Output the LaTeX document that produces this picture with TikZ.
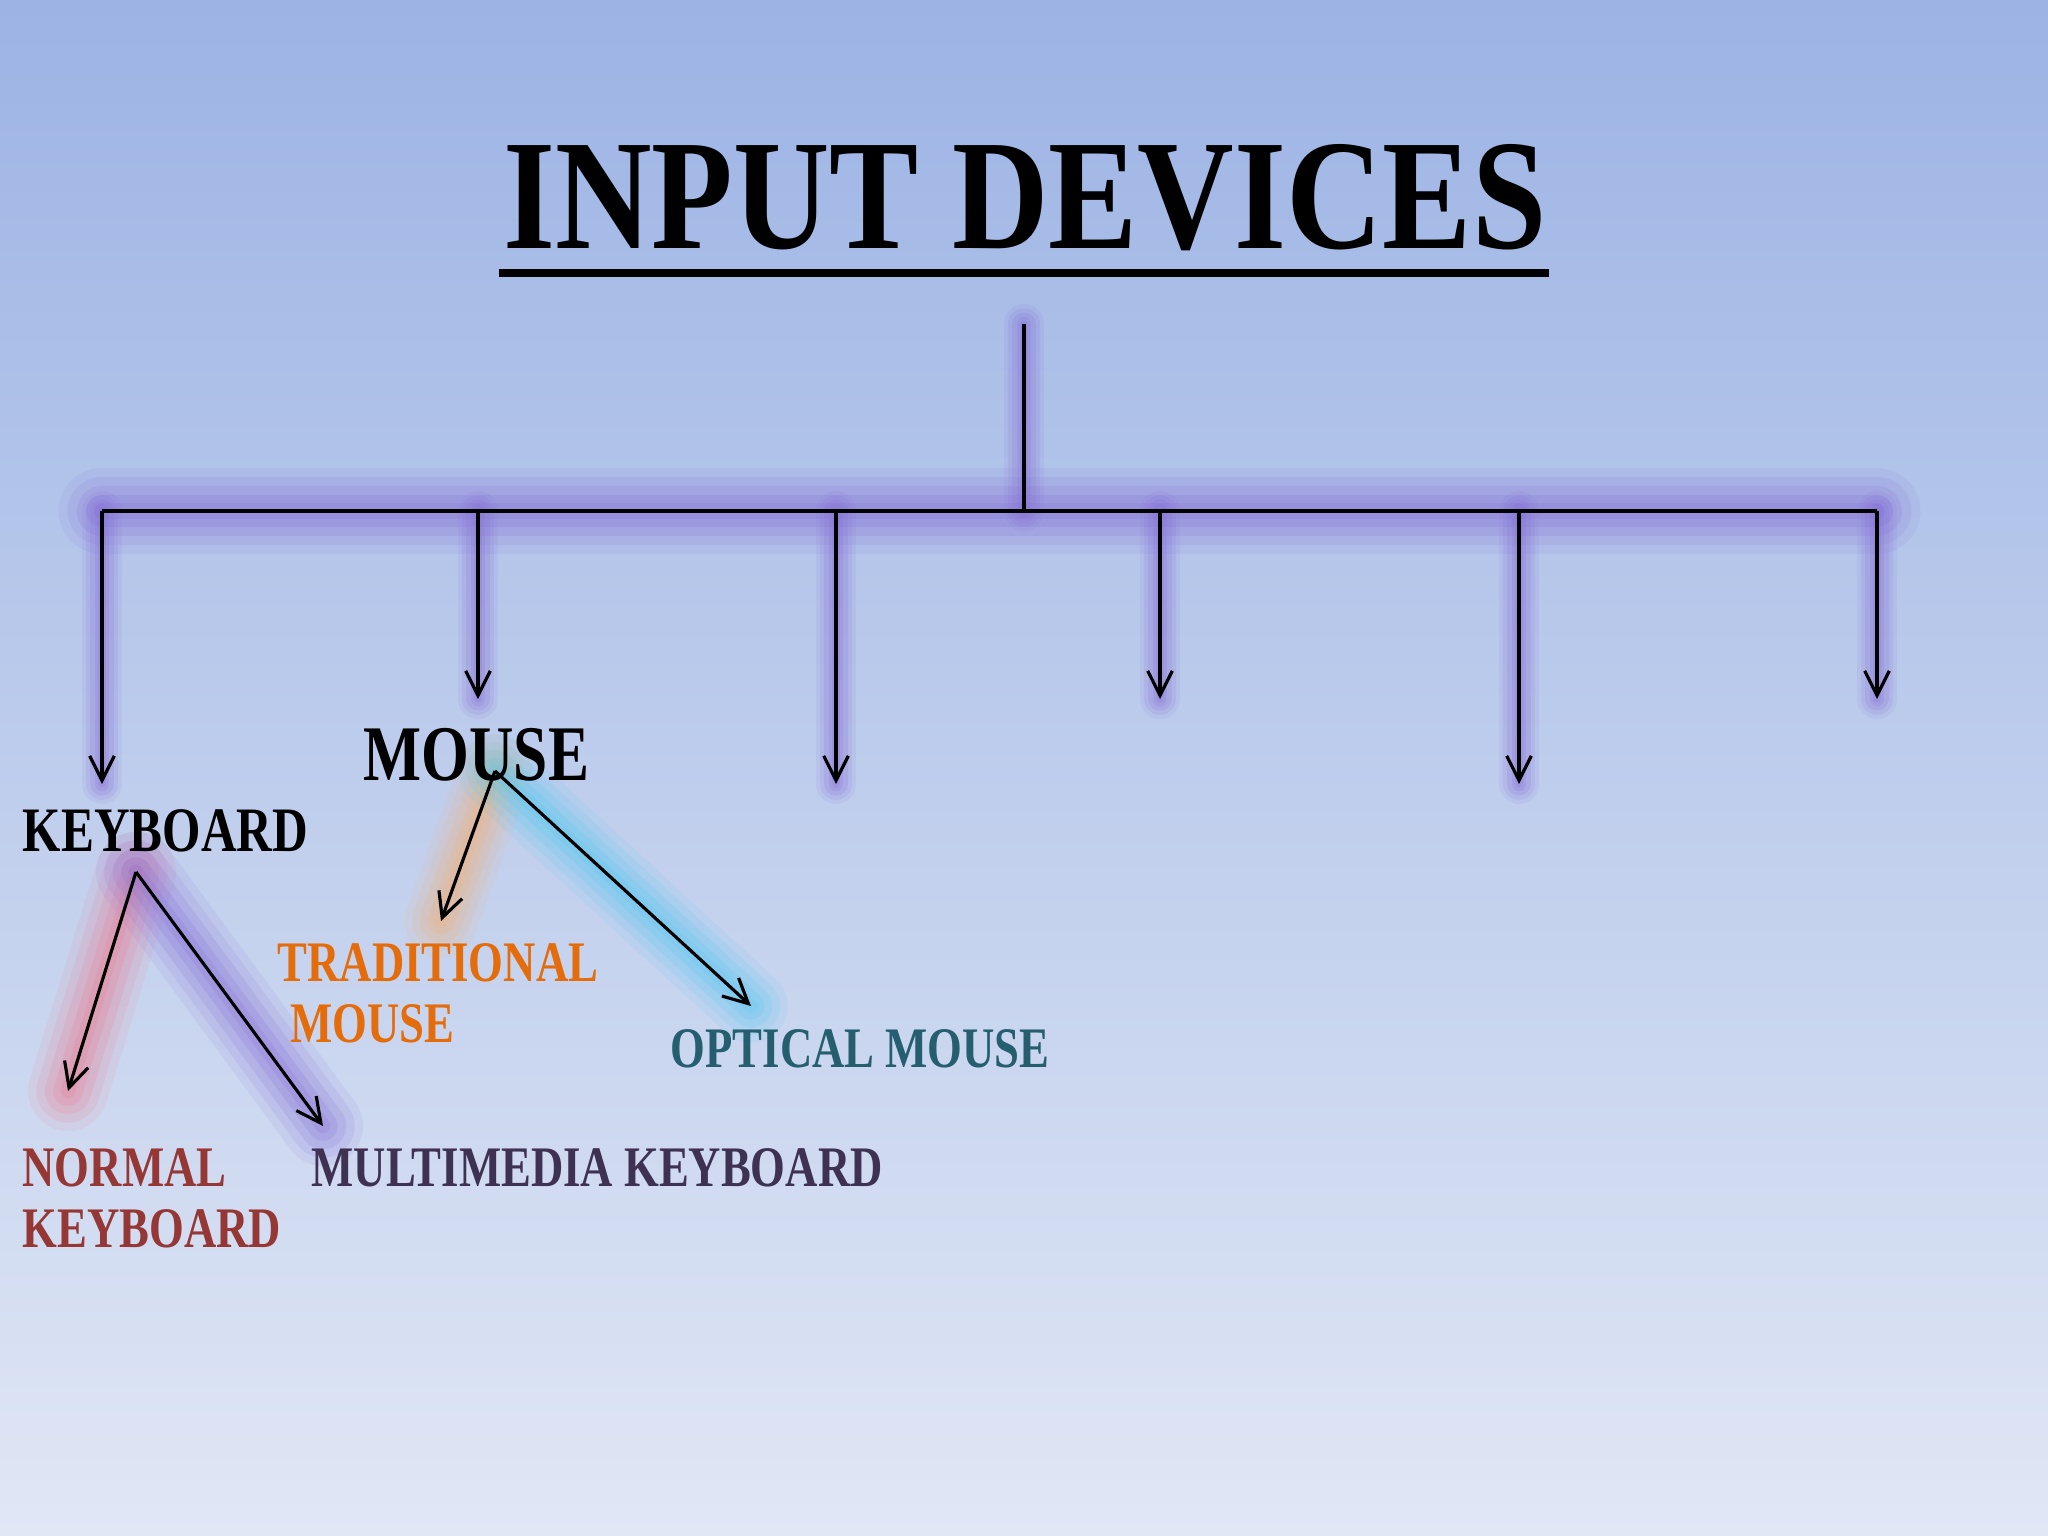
\documentclass[tikz,border=0pt]{standalone}
\usepackage{fontspec}
\usepackage{tikz}
\usetikzlibrary{arrows.meta}
\newfontfamily\titlefont[FakeStretch=0.85]{Liberation Serif}
\newfontfamily\algfont[FakeStretch=0.78]{Liberation Serif}
\definecolor{bgtop}{RGB}{156,179,228}
\definecolor{bgbottom}{RGB}{224,231,245}
\definecolor{glowpurple}{RGB}{135,110,215}
\definecolor{glowred}{RGB}{235,120,140}
\definecolor{gloworange}{RGB}{245,175,110}
\definecolor{glowcyan}{RGB}{80,200,240}
\definecolor{tradorange}{RGB}{228,108,10}
\definecolor{optteal}{RGB}{37,94,110}
\definecolor{normalred}{RGB}{149,55,53}
\definecolor{multipurple}{RGB}{63,49,81}
\tikzset {
  % one unit is one pixel of the slide
  x=0.01cm, y=-0.01cm,
  >={Straight Barb[length=7pt,width=7pt]},
  % black connectors
  link/.style={draw=black, line width=0.9pt},
  % the big heading
  heading/.style={inner sep=0pt, anchor=base, font=\titlefont\bfseries\fontsize{44.7}{48}\selectfont},
  % device names (base is the last line)
  item/.style={inner sep=0pt, anchor=base west, align=left, font=\algfont\bfseries\fontsize{16.3}{17.1}\selectfont},
}
% soft glow under a connector: colour, width, path
\newcommand{\glowline}[3]{
  \foreach \w/\o in {1.9/.10, 1.5/.13, 1.1/.17, .7/.2, .35/.2} {
    \draw[#1, opacity=\o, line width=\w*#2, line cap=round] #3;
  }
}

\begin{document}
\begin{tikzpicture}
  \shade[top color=bgtop, bottom color=bgbottom] (0,0) rectangle (2048,1536);
  \useasboundingbox (0,0) rectangle (2048,1536);

  \node[heading] (title) at (1025,248) {INPUT DEVICES};
  \draw[line width=2pt] (499,273) -- (1549,273);

  % tree
  \coordinate (stemtop) at (1024,324);
  \coordinate (hub) at (1024,511);
  \coordinate (barleft) at (102,511);
  \coordinate (barright) at (1877,511);
  \foreach \x/\y [count=\i] in {102/784, 478/699, 836/784, 1160/699, 1519/784, 1877/699} {
    \coordinate (top\i) at (\x,511);
    \coordinate (end\i) at (\x,\y);
  }

  \glowline{glowpurple}{13pt}{(barleft) -- (barright)}
  \glowline{glowpurple}{6pt}{(stemtop) -- (hub)}
  \foreach \i in {1,...,6} {
    \glowline{glowpurple}{6pt}{(top\i) -- (end\i)}
  }

  \draw[link] (stemtop) -- (hub);
  \draw[link, line width=1.2pt] (barleft) -- (barright);
  \foreach \i in {1,...,6}
    \draw[link, ->] (top\i) -- (end\i);

  % sub devices
  \coordinate (kbout) at (136,872);
  \coordinate (kbnormal) at (68,1091);
  \coordinate (kbmulti) at (323,1126);
  \coordinate (msout) at (495,771);
  \coordinate (mstrad) at (441,921);
  \coordinate (msopt) at (751,1006);

  \glowline{glowred}{12pt}{(kbout) -- (kbnormal)}
  \glowline{glowpurple}{12pt}{(kbout) -- (kbmulti)}
  \glowline{gloworange}{11pt}{(msout) -- (mstrad)}
  \glowline{glowcyan}{11pt}{(msout) -- (msopt)}

  \node[item, font=\algfont\bfseries\fontsize{18}{20}\selectfont] (keyboard) at (22,851) {KEYBOARD};
  \node[item, font=\algfont\bfseries\fontsize{22.4}{24}\selectfont] (mouse) at (363,780) {MOUSE};
  \node[item, tradorange] (tradmouse) at (277,1042) {TRADITIONAL\\\hspace*{3.7pt}MOUSE};
  \node[item, optteal] (optmouse) at (670,1067) {OPTICAL MOUSE};
  \node[item, normalred] (normalkb) at (22,1247) {NORMAL\\KEYBOARD};
  \node[item, multipurple] (multikb) at (311,1186) {MULTIMEDIA KEYBOARD};

  \draw[link, ->] (kbout) -- (kbnormal);
  \draw[link, ->] (kbout) -- (kbmulti);
  \draw[link, ->] (msout) -- (mstrad);
  \draw[link, ->] (msout) -- (msopt);
\end{tikzpicture}
\end{document}
